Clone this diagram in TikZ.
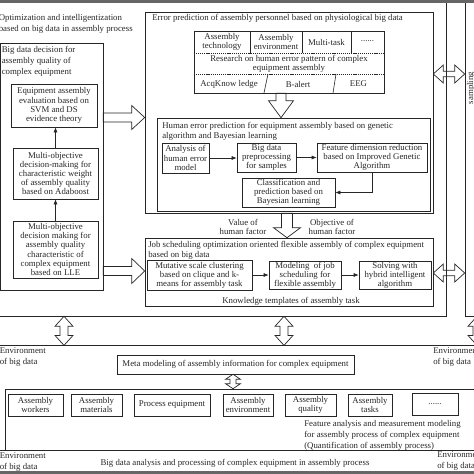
\documentclass[tikz,border=0pt]{standalone}
\usepackage{fontspec}
\setmainfont{Liberation Serif}
\usetikzlibrary{arrows.meta,calc}

\newcommand{\fs}{\fontsize{8.8}{9.1}\selectfont}
\newcommand{\ft}{\fontsize{8.8}{10.6}\selectfont}
% hollow block arrows: from, to, shaft half width, head half width, head length
\newcommand{\fatarrow}[5]{%
  \draw[fat] let \p1=(#1), \p2=(#2), \n1={atan2(\y2-\y1,\x2-\x1)}, \n2={veclen(\x2-\x1,\y2-\y1)} in
    [shift={(\p1)}, rotate=\n1]
    (0pt,-#3) -- (\n2*1pt-#5,-#3) -- (\n2*1pt-#5,-#4) -- (\n2*1pt,0pt) -- (\n2*1pt-#5,#4)
    -- (\n2*1pt-#5,#3) -- (0pt,#3) -- cycle;}
\newcommand{\dblarrow}[5]{%
  \draw[fat] let \p1=(#1), \p2=(#2), \n1={atan2(\y2-\y1,\x2-\x1)}, \n2={veclen(\x2-\x1,\y2-\y1)} in
    [shift={(\p1)}, rotate=\n1]
    (0pt,0pt) -- (#5,#4) -- (#5,#3) -- (\n2*1pt-#5,#3) -- (\n2*1pt-#5,#4) -- (\n2*1pt,0pt)
    -- (\n2*1pt-#5,-#4) -- (\n2*1pt-#5,-#3) -- (#5,-#3) -- (#5,-#4) -- cycle;}

\begin{document}
\begin{tikzpicture}[x=1pt,y=-1pt,color=black!85,line width=0.6pt,
  box/.style={draw,align=center,inner sep=0pt,font=\fs},
  frm/.style={draw,inner sep=0pt},
  ttl/.style={align=left,inner sep=0pt,font=\ft,anchor=north west},
  lbl/.style={align=center,inner sep=0pt,font=\fs},
  conn/.style={-{Latex[length=5pt,width=4pt]}},
  fat/.style={line width=0.7pt,line join=miter},
  cellsep/.style={dash pattern=on 1.2pt off 0.9pt}]
\useasboundingbox (0,0) rectangle (474,474);

% outer frames
\node[frm,minimum width=451pt,minimum height=314.5pt] (optfr) at (220.5,158.75) {};
\node[frm,minimum width=35pt,minimum height=314.5pt] (sidefr) at (482.5,158.75) {};
\node[frm,minimum width=485pt,minimum height=126.3pt] (envfr) at (237.5,408.85) {};
\node[frm,minimum width=490pt,minimum height=61pt] (featfr) at (250,419.5) {};
\draw (envfr.west |- 0,450) -- (envfr.east |- 0,450);
\draw[line width=2.6pt,black!60] (-5,1.3) -- (480,1.3);
\draw[line width=3pt,black!60] (-5,472.6) -- (480,472.6);

\node[ttl] (opttl) at (-1.5,14.5) {Optimization and intelligentization\\based on big data in assembly process};

% big data decision
\node[frm,minimum width=102.3pt,minimum height=247pt] (bigdec) at (51.85,166.5) {};
\node[ttl] (bigttl) at (1.5,46.5) {Big data decision for\\assembly quality of\\complex equipment};
\node[box,minimum width=86pt,minimum height=43pt] (eva) at (54,105.5) {Equipment assembly\\evaluation based on\\SVM and DS\\evidence theory};
\node[box,minimum width=85pt,minimum height=51pt] (ada) at (55.5,173.5) {Multi-objective\\decision-making for\\characteristic weight\\of assembly quality\\based on Adaboost};
\node[box,minimum width=85pt,minimum height=57pt] (lle) at (55.5,249.5) {Multi-objective\\decision making for\\assembly quality\\characteristic of\\complex equipment\\based on LLE};
\draw[conn] (ada.north) -- (ada.north |- eva.south);
\draw[conn] (lle.north) -- (lle.north |- ada.south);

% error prediction
\node[frm,minimum width=288pt,minimum height=201pt] (errfr) at (289,112.5) {};
\node[ttl] (errttl) at (152,14.5) {Error prediction of assembly personnel based on physiological big data};
\node[draw,inner sep=0pt,minimum width=190pt,minimum height=62pt] (tab) at (289,62) {};
\draw[cellsep] (tab.west |- 0,53) -- (tab.east |- 0,53);
\draw[cellsep] (tab.west |- 0,74) -- (tab.east |- 0,74);
\foreach \cx in {250,302,351} \draw (\cx,0 |- tab.north) -- (\cx,53);
\draw (268,74) -- (264,93);
\draw (336,74) -- (333,93);
\node[lbl] (ctech) at (222,42) {Assembly\\technology};
\node[lbl] (cenv) at (276,42) {Assembly\\environment};
\node[lbl] (cmulti) at (326.5,42) {Multi-task};
\node[lbl] (cmore) at (367.5,41) {......};
\node[lbl] (cres) at (289,63.5) {Research on human error pattern of complex\\equipment assembly};
\node[lbl] (cacq) at (229,84) {AcqKnow ledge};
\node[lbl] (cbal) at (298,84) {B-alert};
\node[lbl] (ceeg) at (358.5,84) {EEG};

\node[frm,minimum width=273pt,minimum height=93pt] (hefr) at (293.5,164.5) {};
\node[ttl,font=\fontsize{8.8}{10}\selectfont] (hettl) at (162,122.5) {Human error prediction for equipment assembly based on genetic\\algorithm and Bayesian learning};
\node[box,minimum width=47pt,minimum height=30pt] (anal) at (185.5,158) {Analysis of\\human error\\model};
\node[box,minimum width=59pt,minimum height=29pt] (prep) at (266.5,157.5) {Big data\\preprocessing\\for samples};
\node[box,minimum width=110pt,minimum height=29pt] (feat) at (372,157.5) {Feature dimension reduction\\based on Improved Genetic\\Algorithm};
\node[box,minimum width=93pt,minimum height=29pt] (clas) at (288.5,192.5) {Classification and\\prediction based on\\Bayesian learning};
\draw[conn] (anal.east) -- (anal.east -| prep.west);
\draw[conn] (prep.east) -- (prep.east -| feat.west);
\draw[conn] (feat.south) |- (clas.east);

% job scheduling
\node[frm,minimum width=288pt,minimum height=68pt] (jobfr) at (289,272) {};
\node[ttl] (jobttl) at (148,240.5) {Job scheduling optimization oriented flexible assembly of complex equipment\\based on big data};
\node[box,minimum width=105pt,minimum height=30pt] (clus) at (199.5,275) {Mutative scale clustering\\based on clique and k-\\means for assembly task};
\node[box,minimum width=72pt,minimum height=28pt] (modl) at (305,275) {Modeling\ \ of job\\scheduling for\\flexible assembly};
\node[box,minimum width=72pt,minimum height=28pt] (solv) at (395,275) {Solving with\\hybrid intelligent\\algorithm};
\draw[conn] (clus.east) -- (modl.west);
\draw[conn] (modl.east) -- (solv.west);
\node[lbl] (know) at (291,301) {Knowledge templates of assembly task};
\node[lbl,font=\fontsize{8.8}{8.6}\selectfont] (valhf) at (243,227) {Value of\\human factor};
\node[lbl,font=\fontsize{8.8}{8.6}\selectfont] (objhf) at (332,227) {Objective of\\human factor};
\node[rotate=90,inner sep=0pt,font=\fs] (samp) at (471,88) {sampling};

% block arrows
\fatarrow{bigdec.east |- 0,117.5}{errfr.west |- 0,117.5}{4.5pt}{12pt}{13pt}
\fatarrow{bigdec.east |- 0,271}{jobfr.west |- 0,271}{4.5pt}{12.5pt}{13pt}
\fatarrow{281,0 |- tab.south}{281,0 |- hefr.north}{5pt}{12.5pt}{17pt}
\fatarrow{287,0 |- errfr.south}{287,0 |- jobfr.north}{5.5pt}{13.5pt}{10pt}
\dblarrow{errfr.east |- 0,74}{sidefr.west |- 0,74}{2.8pt}{9pt}{10pt}
\dblarrow{jobfr.east |- 0,273}{sidefr.west |- 0,273}{2.8pt}{9pt}{10pt}
\dblarrow{64,0 |- optfr.south}{64,0 |- envfr.north}{4pt}{9pt}{10pt}
\dblarrow{284,0 |- optfr.south}{284,0 |- envfr.north}{4pt}{9pt}{10pt}
\dblarrow{477,0 |- sidefr.south}{477,0 |- envfr.north}{4pt}{9pt}{10pt}

% environment of big data
\node[ttl] (envtl) at (-0.5,347.5) {Environment\\of big data};
\node[ttl] (envtr) at (433,347.5) {Environment\\of big data};
\node[ttl] (envbl) at (-0.5,452.5) {Environment\\of big data};
\node[ttl] (envbr) at (437,451.5) {Environment\\of big data};
\node[box,minimum width=237pt,minimum height=19pt] (meta) at (235.5,364.5) {Meta modeling of assembly information for complex equipment};
\dblarrow{233,0 |- meta.south}{233,0 |- featfr.north}{3pt}{7.5pt}{5pt}
\node[box,minimum width=55pt,minimum height=22pt] (wrk) at (35.5,405) {Assembly\\workers};
\node[box,minimum width=51pt,minimum height=22pt] (mat) at (96.5,405) {Assembly\\materials};
\node[box,minimum width=76pt,minimum height=22pt] (peq) at (172,405) {Process equipment};
\node[box,minimum width=50pt,minimum height=22pt] (aenv) at (248,405) {Assembly\\environment};
\node[box,minimum width=51pt,minimum height=22pt] (qua) at (310.5,405) {Assembly\\quality};
\node[box,minimum width=44pt,minimum height=22pt] (tsk) at (370,405) {Assembly\\tasks};
\node[box,minimum width=46pt,minimum height=22pt] (etc) at (435,404) {......};
\node[ttl] (featttl) at (304,420.5) {Feature analysis and measurement modeling\\for assembly process of complex equipment\\(Quantification of assembly process)};
\node[lbl] (bdttl) at (235,463) {Big data analysis and processing of complex equipment in assembly process};
\end{tikzpicture}
\end{document}
